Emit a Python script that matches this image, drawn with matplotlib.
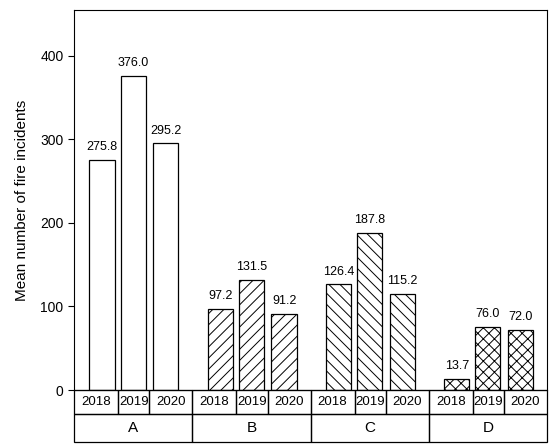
import matplotlib
matplotlib.use("Agg")
import matplotlib.pyplot as plt
from matplotlib.patches import Rectangle

plt.rcParams['font.family'] = ['Liberation Sans', 'DejaVu Sans']
plt.rcParams['hatch.linewidth'] = 0.7
groups = ['A', 'B', 'C', 'D']
years = ['2018', '2019', '2020']
values = [[275.8, 376.0, 295.2], [97.2, 131.5, 91.2], [126.4, 187.8, 115.2], [13.7, 76.0, 72.0]]
hatches = ['', '///', '\\\\\\', 'xxx']

W, H = 550, 444
fig = plt.figure(figsize=(W/100, H/100), dpi=100)
L, R, T, B = 74, 547, 10, 390
ax = fig.add_axes([L/W, 1-B/H, (R-L)/W, (B-T)/H])
offs = [0.71, 1.5, 2.33]
bw = 0.64
for g, (vals, h) in enumerate(zip(values, hatches)):
    for i, v in enumerate(vals):
        x = g*3 + offs[i]
        ax.bar(x, v, width=bw, facecolor='white', edgecolor='black', hatch=h, linewidth=0.9)
        ax.text(x, v + 8, f"{v:.1f}", ha='center', va='bottom', fontsize=9)
ax.set_xlim(0, 12)
ax.set_ylim(0, 455)
ax.set_xticks([])
ax.set_yticks([0, 100, 200, 300, 400])
ax.tick_params(axis='y', labelsize=10, direction='out', length=4)
ax.set_ylabel('Mean number of fire incidents', fontsize=11, labelpad=8)

# table
tb = fig.add_axes([L/W, 1-442/H, (R-L)/W, (442-B)/H])
tb.set_xlim(0, 12)
tb.set_ylim(0, 52)
tb.axis('off')
cell_edges = [0, 1.12, 1.91, 3]
for g in range(4):
    for i in range(3):
        x0 = g*3 + cell_edges[i]; x1 = g*3 + cell_edges[i+1]
        tb.add_patch(Rectangle((x0, 28), x1-x0, 24, fill=False, lw=0.9, clip_on=False))
        tb.text((x0+x1)/2, 40, years[i], ha='center', va='center', fontsize=9.5)
    tb.add_patch(Rectangle((g*3, 0), 3, 28, fill=False, lw=0.9, clip_on=False))
    tb.text(g*3+1.5, 14, groups[g], ha='center', va='center', fontsize=11)

fig.savefig('out.png', dpi=100)
